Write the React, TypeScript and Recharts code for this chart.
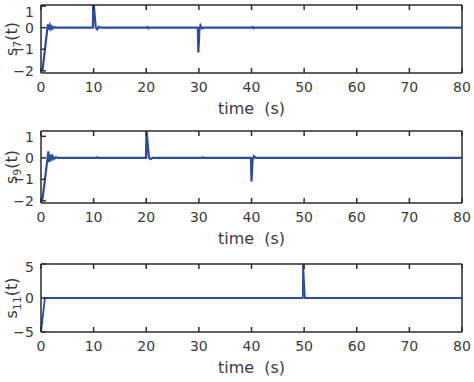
import { LineChart, Line, XAxis, YAxis, ReferenceLine } from "recharts";

// time samples and values
const t7 = [0, 0.3, 1.3, 1.5, 1.7, 1.9, 2.1, 2.3, 2.6, 3, 9.85, 9.95, 10.4, 10.7, 11.0, 11.4, 20, 20.2, 20.4, 20.6, 29.8, 29.9, 30.1, 30.3, 30.6, 31, 40, 40.2, 40.4, 40.6, 80];
const s7 = [-2, -1.95, 0.15, -0.1, 0.1, -0.06, 0.05, -0.03, 0.02, 0, 0, 1.3, 0.02, -0.08, 0.04, 0, 0, 0.03, -0.03, 0, 0, -1.15, -0.1, 0.1, -0.03, 0, 0, 0.03, -0.03, 0, 0];

const t9 = [0, 0.3, 1.4, 1.6, 1.8, 2.0, 2.2, 2.5, 2.8, 3.2, 10.5, 10.7, 10.9, 19.95, 20.05, 20.5, 20.8, 21.2, 30.5, 30.7, 30.9, 39.9, 40.0, 40.2, 40.45, 40.8, 80];
const s9 = [-2, -1.9, 0.3, -0.2, 0.15, -0.12, 0.08, -0.05, 0.03, 0, 0, 0.03, 0, 0, 1.3, 0.02, -0.06, 0, 0, 0.03, 0, 0, -1.1, -0.1, 0.08, 0, 0];

const t11 = [0, 0.75, 49.75, 49.8, 50.15, 80];
const s11 = [-5, 0, 0, 5, 0, 0];

const xTicks = [0, 10, 20, 30, 40, 50, 60, 70, 80];
const yTicksA = [-2, -1, 0, 1];
const yTicksB = [-5, 0, 5];

const toRows = (t: number[], v: number[]) => t.map((x, i) => ({ t: x, v: v[i] }));

const axisColor = "#2b2b2b";
const textColor = "#3a3a3a";
const font = "DejaVu Sans";
const lineColor = "#2c4c9f";

const fmt = (v: number) => (v < 0 ? "\u2212" + Math.abs(v) : String(v));

// y tick label drawn at the scaled position of a ReferenceLine
function YTickLabel({ viewBox, tickValue }: any) {
  const ty = Math.max(viewBox.y, 12);
  return (
    <text x={viewBox.x - 7} y={ty} dy={5} textAnchor="end" fontFamily={font} fontSize={14} fill={textColor}>
      {fmt(tickValue)}
    </text>
  );
}

function YLabel({ viewBox, sub }: any) {
  const cy = viewBox.y + viewBox.height / 2;
  const x = 17;
  return (
    <text
      x={x}
      y={cy}
      transform={`rotate(-90, ${x}, ${cy})`}
      textAnchor="middle"
      fontFamily={font}
      fontSize={16}
      fill={textColor}
    >
      <tspan>s</tspan>
      <tspan dy={4} fontSize={11}>{sub}</tspan>
      <tspan dy={-4}>(t)</tspan>
    </text>
  );
}

function XLabel({ viewBox }: any) {
  return (
    <text
      x={viewBox.x + viewBox.width / 2}
      y={viewBox.y + 41}
      textAnchor="middle"
      fontFamily={font}
      fontSize={16}
      fill={textColor}
      style={{ whiteSpace: "pre" }}
    >
      {"time  (s)"}
    </text>
  );
}

function Panel({
  rows,
  domain,
  yTicks,
  sub,
  top,
  height,
  marginTop,
  xHeight,
  width,
}: {
  rows: { t: number; v: number }[];
  domain: [number, number];
  yTicks: number[];
  sub: string;
  top: number;
  height: number;
  marginTop: number;
  xHeight: number;
  width: number;
}) {
  return (
    <div style={{ position: "absolute", left: 0, top }}>
      <LineChart width={474} height={height} data={rows} margin={{ top: marginTop, right: 12, left: 0, bottom: 0 }}>
        <XAxis
          xAxisId="b"
          type="number"
          dataKey="t"
          domain={[0, 80]}
          ticks={xTicks}
          interval={0}
          height={xHeight}
          tickSize={-5}
          tickMargin={14}
          tick={{ fontFamily: font, fontSize: 14, fill: textColor }}
          stroke={axisColor}
          strokeWidth={1.5}
          label={<XLabel />}
        />
        <XAxis
          xAxisId="top"
          orientation="top"
          type="number"
          dataKey="t"
          domain={[0, 80]}
          ticks={xTicks}
          interval={0}
          height={1}
          tickSize={-5}
          tick={() => <g />}
          stroke={axisColor}
          strokeWidth={1.5}
        />
        <YAxis
          yAxisId="l"
          type="number"
          domain={domain}
          ticks={yTicks}
          interval={0}
          allowDataOverflow
          width={41}
          tickSize={-5}
          tickMargin={12}
          tick={() => <g />}
          stroke={axisColor}
          strokeWidth={1.5}
          label={<YLabel sub={sub} />}
        />
        {yTicks.map((v) => (
          <ReferenceLine
            key={`yt${v}`}
            xAxisId="b"
            yAxisId="l"
            y={v}
            stroke="none"
            label={<YTickLabel tickValue={v} />}
          />
        ))}
        <ReferenceLine xAxisId="b" yAxisId="l" x={80} stroke={axisColor} strokeWidth={1.5} />
        <Line
          xAxisId="b"
          yAxisId="l"
          type="linear"
          dataKey="v"
          stroke={lineColor}
          strokeWidth={width}
          dot={false}
          isAnimationActive={false}
        />
      </LineChart>
    </div>
  );
}

export default function App() {
  return (
    <div style={{ position: "absolute", left: 0, top: 0, width: 474, height: 382, background: "#fff" }}>
      <Panel rows={toRows(t7, s7)} domain={[-2.1, 1.05]} yTicks={yTicksA} sub="7" top={0} height={125} marginTop={4} xHeight={52} width={2.2} />
      <Panel rows={toRows(t9, s9)} domain={[-2.1, 1.25]} yTicks={yTicksA} sub="9" top={125} height={130} marginTop={5} xHeight={52} width={2.2} />
      <Panel rows={toRows(t11, s11)} domain={[-5, 5]} yTicks={yTicksB} sub="11" top={255} height={127} marginTop={8} xHeight={50} width={1.8} />
    </div>
  );
}
